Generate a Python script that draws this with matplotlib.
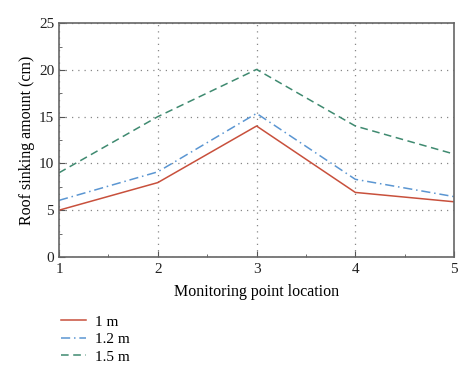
import matplotlib.pyplot as plt
import numpy as np

plt.rcParams['font.family'] = ['Liberation Serif', 'DejaVu Serif']

locations = [1, 2, 3, 4, 5]
sink_1m = [5.0, 7.95, 14.0, 6.9, 5.9]
sink_12m = [6.05, 9.1, 15.35, 8.3, 6.45]
sink_15m = [9.0, 15.0, 20.05, 14.0, 11.0]

fig = plt.figure(figsize=(4.74, 3.79), dpi=100)
ax = fig.add_axes([0.1245, 0.322, 0.8335, 0.617])

l1, = ax.plot(locations, sink_1m, color="#c8503c", lw=1.1, label="1 m")
l2, = ax.plot(locations, sink_12m, color="#5b96d2", lw=1.1, ls=(0, (6, 2.5, 1, 2.5)), label="1.2 m")
l3, = ax.plot(locations, sink_15m, color="#3f8a70", lw=1.1, ls=(0, (5, 3)), label="1.5 m")

ax.set_xlim(1, 5)
ax.set_ylim(0, 25)
ax.set_xticks(locations)
ax.set_yticks(np.arange(0, 26, 5))
ax.set_xticks(np.arange(1.5, 5, 1), minor=True)
ax.set_yticks(np.arange(2.5, 25, 5), minor=True)
ax.tick_params(which="both", direction="in", colors="#555555", labelcolor="#222222", labelsize=11)
ax.tick_params(which="major", length=4)
ax.tick_params(which="minor", length=2.5)
ax.tick_params(axis="x", pad=4)
ax.grid(True, which="major", ls=(0, (1, 4)), color="#888888", lw=0.9)
for s in ax.spines.values():
    s.set_color("#666666")
    s.set_linewidth(1.2)

ax.set_xlabel("Monitoring point location", fontsize=11.5, labelpad=6)
ax.set_ylabel("Roof sinking amount (cm)", fontsize=11.5, labelpad=3)

fig.legend(handles=[l1, l2, l3], loc="upper left", bbox_to_anchor=(0.1, 0.205),
           frameon=False, fontsize=11, handlelength=1.6, labelspacing=0.25, handletextpad=0.6)

fig.savefig("out.png", dpi=100)
